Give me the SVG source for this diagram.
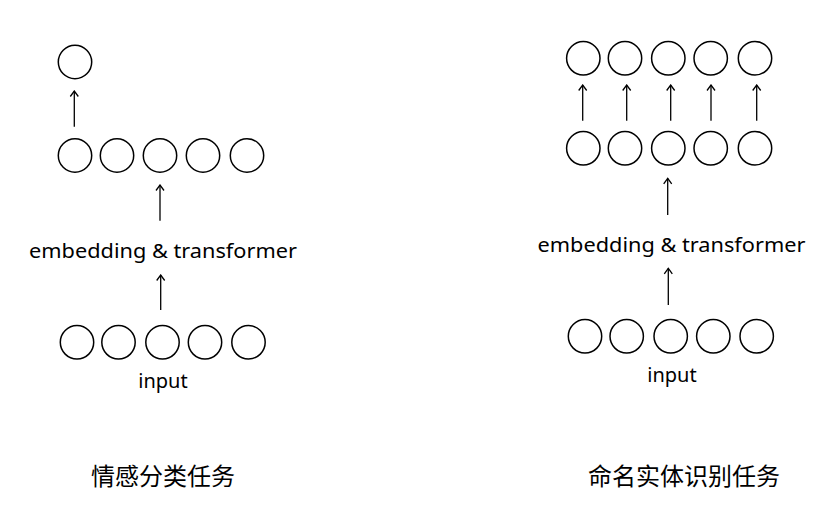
<svg xmlns="http://www.w3.org/2000/svg" width="836" height="509" viewBox="0 0 836 509">
<style>
.n{fill:none;stroke:#000;stroke-width:1.5}
.c{fill:none;stroke:#000;stroke-width:1.3}
.t{font-family:"Noto Sans","Noto Sans CJK SC",sans-serif;font-size:20px;fill:#000}
.z{font-family:"Noto Sans CJK SC",sans-serif;font-size:24px;fill:#000}
</style>
<defs>
<marker id="ah" viewBox="0 0 10 10" refX="9" refY="5" markerWidth="10" markerHeight="10" markerUnits="userSpaceOnUse" orient="auto">
<path d="M3.5,1 L9,5 L3.5,9" fill="none" stroke="#000" stroke-width="1.3"/>
</marker>
</defs>
<rect width="836" height="509" fill="#fff"/>
<g id="left-output"><circle class="n" cx="75" cy="62" r="16.7"/></g>
<g id="left-hidden">
<circle class="n" cx="75" cy="155.5" r="16.7"/>
<circle class="n" cx="117" cy="155.5" r="16.7"/>
<circle class="n" cx="160" cy="155.5" r="16.7"/>
<circle class="n" cx="203" cy="155.5" r="16.7"/>
<circle class="n" cx="247" cy="155.5" r="16.7"/>
</g>
<g id="left-model"><text class="t" x="163" y="258" text-anchor="middle" textLength="268" lengthAdjust="spacingAndGlyphs">embedding &amp; transformer</text></g>
<g id="left-input">
<circle class="n" cx="77" cy="342.3" r="16.7"/>
<circle class="n" cx="118.5" cy="342.3" r="16.7"/>
<circle class="n" cx="162.5" cy="342.3" r="16.7"/>
<circle class="n" cx="205" cy="342.3" r="16.7"/>
<circle class="n" cx="248.5" cy="342.3" r="16.7"/>
<text class="t" x="163" y="388" text-anchor="middle">input</text>
</g>
<g id="left-title"><text class="z" x="163" y="485" text-anchor="middle">情感分类任务</text></g>

<g id="right-output">
<circle class="n" cx="583.3" cy="58.3" r="16.7"/>
<circle class="n" cx="625" cy="58.3" r="16.7"/>
<circle class="n" cx="668.3" cy="58.3" r="16.7"/>
<circle class="n" cx="710.7" cy="58.3" r="16.7"/>
<circle class="n" cx="755" cy="58.3" r="16.7"/>
</g>
<g id="right-hidden">
<circle class="n" cx="583.3" cy="148.3" r="16.7"/>
<circle class="n" cx="625" cy="148.3" r="16.7"/>
<circle class="n" cx="668.3" cy="148.3" r="16.7"/>
<circle class="n" cx="710.7" cy="148.3" r="16.7"/>
<circle class="n" cx="755" cy="148.3" r="16.7"/>
</g>
<g id="right-model"><text class="t" x="671.5" y="251.5" text-anchor="middle" textLength="268" lengthAdjust="spacingAndGlyphs">embedding &amp; transformer</text></g>
<g id="right-input">
<circle class="n" cx="585" cy="336.3" r="16.7"/>
<circle class="n" cx="626.7" cy="336.3" r="16.7"/>
<circle class="n" cx="670.7" cy="336.3" r="16.7"/>
<circle class="n" cx="713.3" cy="336.3" r="16.7"/>
<circle class="n" cx="756.7" cy="336.3" r="16.7"/>
<text class="t" x="672" y="381.5" text-anchor="middle">input</text>
</g>
<g id="right-title"><text class="z" x="684" y="485" text-anchor="middle">命名实体识别任务</text></g>

<g id="connectors">
<path class="c" d="M74.3,126.7 V91" marker-end="url(#ah)"/>
<path class="c" d="M160,220.7 V185" marker-end="url(#ah)"/>
<path class="c" d="M160.7,310 V275" marker-end="url(#ah)"/>
<path class="c" d="M582.7,120.7 V85" marker-end="url(#ah)"/>
<path class="c" d="M626.7,120.7 V85" marker-end="url(#ah)"/>
<path class="c" d="M670.7,120.7 V85" marker-end="url(#ah)"/>
<path class="c" d="M711,120.7 V85" marker-end="url(#ah)"/>
<path class="c" d="M756.7,120.7 V85" marker-end="url(#ah)"/>
<path class="c" d="M667.7,215 V178.3" marker-end="url(#ah)"/>
<path class="c" d="M668.3,305 V268.3" marker-end="url(#ah)"/>
</g>
</svg>
